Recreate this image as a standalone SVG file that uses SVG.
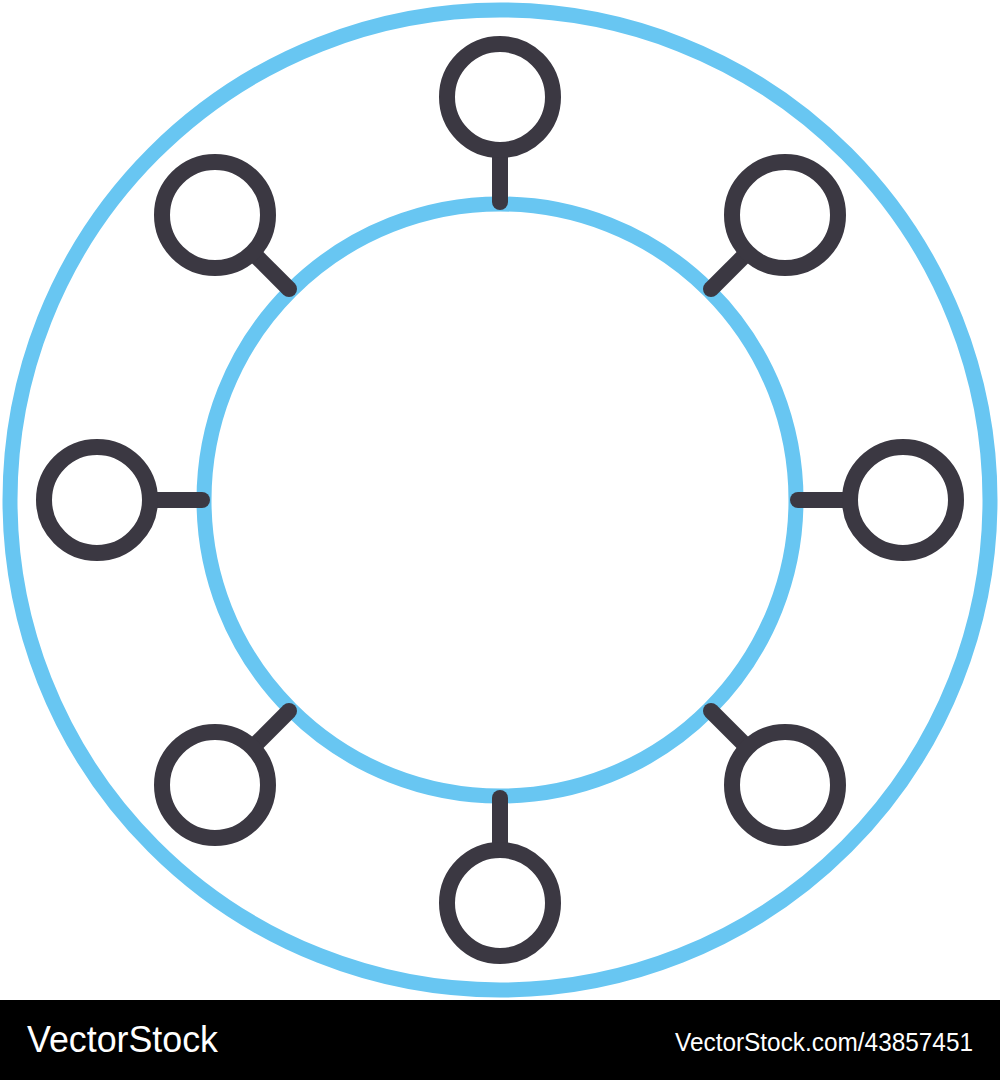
<svg xmlns="http://www.w3.org/2000/svg" width="1000" height="1080" viewBox="0 0 1000 1080">
<style>
.ring{fill:none;stroke:#68c6f2;stroke-width:15}
.node circle{fill:none;stroke:#3b3842;stroke-width:16}
.node line{stroke:#3b3842;stroke-width:16;stroke-linecap:round}
.wm{fill:#ffffff;font-family:"Liberation Sans",Arial,sans-serif}
</style>
<rect width="1000" height="1080" fill="#ffffff"/>
<g id="rings">
<circle class="ring" cx="500" cy="500" r="490"/>
<circle class="ring" cx="500" cy="500" r="296"/>
</g>
<g id="connectors">
<g class="node">
<line x1="500" y1="156" x2="500" y2="202"/>
<line x1="844" y1="500" x2="798" y2="500"/>
<line x1="500" y1="844" x2="500" y2="798"/>
<line x1="156" y1="500" x2="202" y2="500"/>
<line x1="256" y1="256" x2="289" y2="289"/>
<line x1="744" y1="256" x2="711" y2="289"/>
<line x1="256" y1="744" x2="289" y2="711"/>
<line x1="744" y1="744" x2="711" y2="711"/>
</g>
</g>
<g id="node-top" class="node"><circle cx="500" cy="97" r="53"/></g>
<g id="node-right" class="node"><circle cx="903" cy="500" r="53"/></g>
<g id="node-bottom" class="node"><circle cx="500" cy="903" r="53"/></g>
<g id="node-left" class="node"><circle cx="97" cy="500" r="53"/></g>
<g id="node-top-left" class="node"><circle cx="215" cy="215" r="53"/></g>
<g id="node-top-right" class="node"><circle cx="785" cy="215" r="53"/></g>
<g id="node-bottom-left" class="node"><circle cx="215" cy="785" r="53"/></g>
<g id="node-bottom-right" class="node"><circle cx="785" cy="785" r="53"/></g>
<rect x="0" y="1000" width="1000" height="80" fill="#000000"/>
<text class="wm" x="27" y="1052" font-size="37" textLength="191" lengthAdjust="spacingAndGlyphs">VectorStock</text>
<text class="wm" x="675" y="1051" font-size="25" textLength="298" lengthAdjust="spacingAndGlyphs">VectorStock.com/43857451</text>
</svg>
